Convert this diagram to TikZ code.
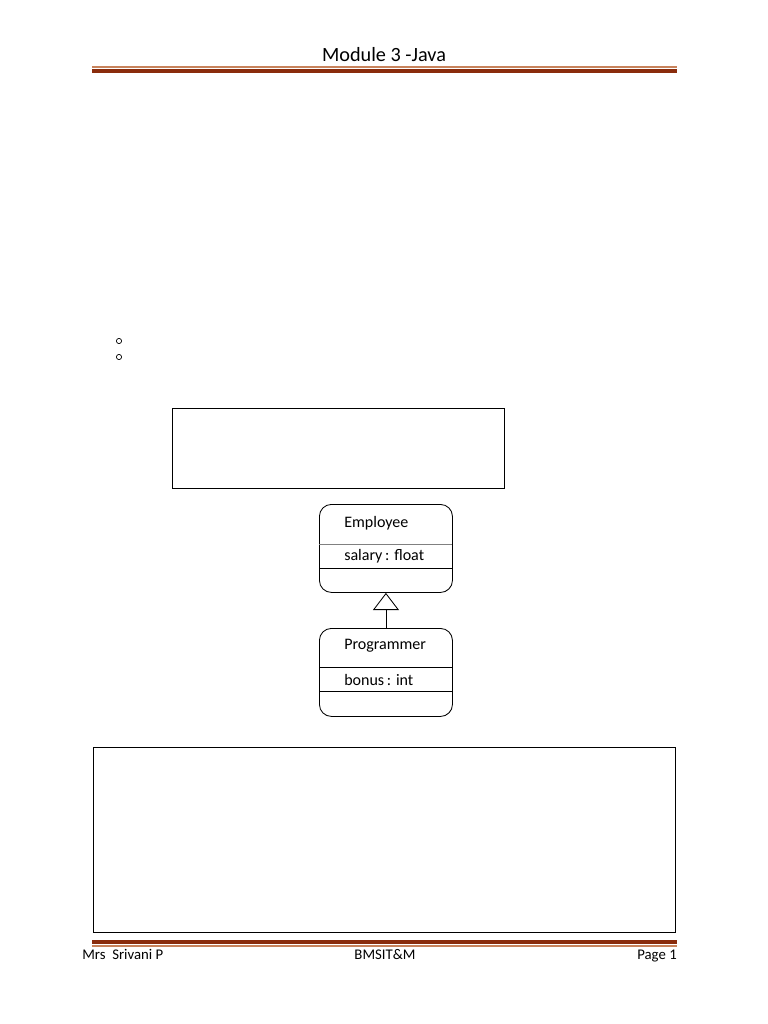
\documentclass[tikz,border=0pt]{standalone}
\usepackage{fontspec}
\setmainfont{Carlito}
\usetikzlibrary{arrows.meta}
\definecolor{rule dark}{HTML}{8A2C0C}
\definecolor{rule light}{HTML}{C8835C}
\begin{document}
\begin{tikzpicture}[
      x=0.025cm,y=-0.025cm,
      >={Triangle[open,length=0.43cm,width=0.65cm]},
      classbox/.style={
        draw,rounded corners=0.3cm,line width=0.6pt,minimum width=3.325cm,
        minimum height=2.2cm,inner sep=0pt,anchor=north west
      },
      member/.style={anchor=west,inner sep=0pt,font=\fontsize{11.4}{13}\selectfont},
      frame/.style={draw,line width=0.6pt,inner sep=0pt,anchor=north west},
      bullet/.style={draw,circle,line width=0.5pt,minimum size=0.13cm,inner sep=0pt},
      footer/.style={inner sep=0pt,font=\fontsize{10.5}{12}\selectfont},
    ]
    \useasboundingbox[fill=white] (0,0) rectangle (768,1024);
    % header
    \node[font=\fontsize{14.4}{16}\selectfont] (title) at (384,55) {Module 3 -Java};
    \coordinate (hl) at (92,71);
    \coordinate (hr) at (677,71);
    \draw[rule light,line width=1.4pt] ([yshift=0.09cm]hl) -- ([yshift=0.09cm]hr);
    \draw[rule dark,line width=2.6pt] (hl) -- (hr);
    % bullets
    \node[bullet] (b1) at (119,341) {};
    \node[bullet] (b2) at (119,357) {};
    % boxes
    \node[frame,minimum width=8.3cm,minimum height=2cm] (top) at (172,408) {};
    \node[classbox] (emp) at (319,504) {};
    \node[classbox] (prog) at (319,628) {};
    \draw[line width=0.4pt,gray] (319,544) -- (452,544);
    \draw[line width=0.6pt] (319,568) -- (452,568);
    \draw[line width=0.6pt] (319,667) -- (452,667);
    \draw[line width=0.6pt] (319,691) -- (452,691);
    \node[member] (empname) at (344,523) {Employee};
    \node[member] (empattr) at (344,556) {salary\,: float};
    \node[member] (progname) at (344,646) {Programmer};
    \node[member] (progattr) at (344,680) {bonus\,: int};
    \draw[line width=0.6pt,->] (prog.north) -- (emp.south);
    \node[frame,minimum width=14.55cm,minimum height=4.625cm] (bottom) at (93,747) {};
    % footer
    \coordinate (fl) at (92,942);
    \coordinate (fr) at (677,942);
    \draw[rule dark,line width=2.6pt] (fl) -- (fr);
    \draw[rule light,line width=1.4pt] ([yshift=-0.09cm]fl) -- ([yshift=-0.09cm]fr);
    \node[footer,anchor=base west] (author) at (82,959) {Mrs\ \ Srivani P};
    \node[footer,anchor=base] (college) at (385,959) {BMSIT\&M};
    \node[footer,anchor=base east] (page) at (677,959) {Page 1};
  \end{tikzpicture}
\end{document}
